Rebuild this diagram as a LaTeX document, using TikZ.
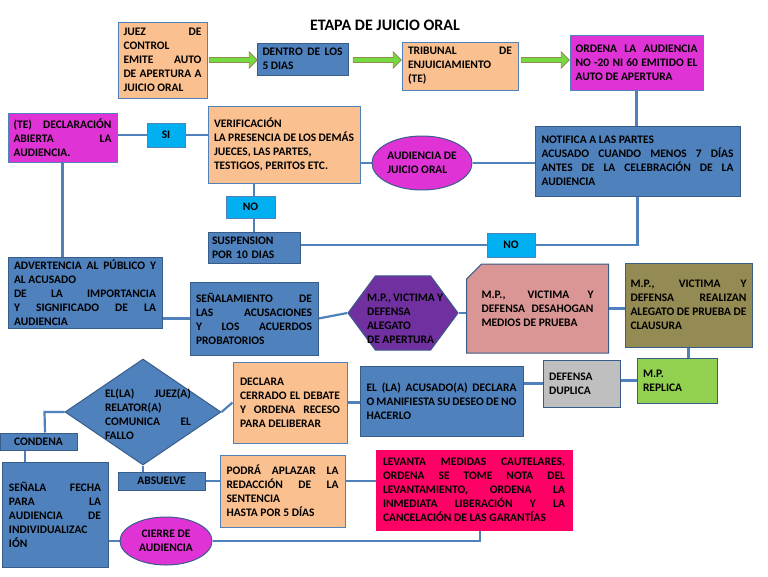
\documentclass[tikz,border=0pt]{standalone}
\usepackage{fontspec}
\setmainfont{Carlito}
\usetikzlibrary{shapes.geometric,shapes.arrows,shapes.misc}
\pgfdeclarelayer{background}
\pgfsetlayers{background,main}
\definecolor{azul}{HTML}{4F81BD}
\definecolor{azulb}{HTML}{385D8A}
\definecolor{durazno}{HTML}{FAC090}
\definecolor{magenta2}{HTML}{E033D6}
\definecolor{cian}{HTML}{00B0F0}
\definecolor{morado}{HTML}{7030A0}
\definecolor{rosa}{HTML}{D99694}
\definecolor{olivo}{HTML}{948A54}
\definecolor{verde}{HTML}{92D050}
\definecolor{gris}{HTML}{BFBFBF}
\definecolor{rojo}{HTML}{FF0066}
\newcommand\txtfont{\bfseries\fontsize{11.5}{14}\selectfont\hyphenpenalty=10000\exhyphenpenalty=10000}
\tikzset{
  caja/.style={draw=azulb, line width=1pt, inner sep=3pt, font=\txtfont, align=justify},
  blue/.style={caja, fill=azul},
  peach/.style={caja, fill=durazno, draw=azul},
  mag/.style={caja, fill=magenta2, draw=azul},
  cyan/.style={caja, fill=cian, draw=azul, align=left},
  con/.style={draw=azul, line width=2.2pt},
  flecha/.style={single arrow, fill=verde!80!green, draw=olivo, line width=0.8pt, minimum height=48pt, minimum width=16pt, single arrow head extend=3pt, inner sep=1pt}
}
\begin{document}
\begin{tikzpicture}[x=1pt,y=-1pt]
\useasboundingbox (0,0) rectangle (768,576);
\node[font=\bfseries\fontsize{16}{18}\selectfont] (title) at (385,25) {ETAPA DE JUICIO ORAL};
% fila superior
\node[peach, minimum width=89pt, minimum height=76pt, text width=78pt] (juez) at (162.5,60) {JUEZ DE CONTROL EMITE AUTO DE APERTURA A JUICIO ORAL};
\node[blue, minimum width=91pt, minimum height=32pt, text width=80pt] (dentro) at (302.5,59) {DENTRO DE LOS 5 DIAS};
\node[peach, minimum width=116pt, minimum height=48pt, text width=104pt] (trib) at (460,66) {TRIBUNAL DE ENJUICIAMIENTO (TE)};
\node[mag, minimum width=133pt, minimum height=55pt, text width=122pt] (ordena) at (636.5,62.5) {ORDENA LA AUDIENCIA NO -20 NI 60 EMITIDO EL AUTO DE APERTURA};
\node[flecha] (f1) at (232,60) {};
\node[flecha] (f2) at (376,60) {};
\node[flecha] (f3) at (544,60) {};
% segunda fila
\node[mag, minimum width=109pt, minimum height=49pt, text width=98pt] (te) at (62.5,137.5) {(TE) DECLARACIÓN ABIERTA LA AUDIENCIA.};
\node[cyan, minimum width=38pt, minimum height=24pt] (si) at (166,135) {SI};
\node[peach, minimum width=152pt, minimum height=77pt, text width=140pt] (verif) at (284,144.5) {VERIFICACIÓN\\LA PRESENCIA DE LOS DEMÁS JUECES, LAS PARTES,\\TESTIGOS, PERITOS ETC.};
\node[ellipse, fill=magenta2, draw=azulb, line width=1pt, minimum width=100pt, minimum height=54pt, inner sep=0pt, font=\txtfont, align=left] (aud) at (422,163) {AUDIENCIA DE\\JUICIO ORAL};
\node[blue, minimum width=205pt, minimum height=70pt, text width=192pt] (notif) at (637.5,161) {NOTIFICA A LAS PARTES\\ACUSADO CUANDO MENOS 7 DÍAS ANTES DE LA CELEBRACIÓN DE LA AUDIENCIA};
\node[cyan, minimum width=49pt, minimum height=22pt] (no1) at (250.5,207) {NO};
\node[blue, minimum width=92pt, minimum height=31pt, text width=84pt, align=left] (susp) at (254,247.5) {SUSPENSION\\POR 10 DIAS};
\node[cyan, minimum width=48pt, minimum height=24pt] (no2) at (511,245) {NO};
% tercera fila
\node[blue, minimum width=154pt, minimum height=70pt, text width=142pt] (adv) at (85,293) {ADVERTENCIA AL PÚBLICO Y AL ACUSADO\\DE LA IMPORTANCIA Y SIGNIFICADO DE LA AUDIENCIA};
\node[blue, minimum width=128pt, minimum height=73pt, text width=116pt] (senal) at (254,318.5) {SEÑALAMIENTO DE LAS ACUSACIONES Y LOS ACUERDOS PROBATORIOS};
\node[regular polygon, regular polygon sides=6, fill=morado, draw=azulb, line width=1pt, minimum size=86pt, xscale=1.28, inner sep=0pt] (hex) at (403,313) {};
\node[font=\txtfont, align=justify, text width=76pt] (hext) at (405,319) {M.P., VICTIMA Y DEFENSA\\ALEGATO\\DE APERTURA};
\node[chamfered rectangle, chamfered rectangle corners=north west, chamfered rectangle xsep=12pt, fill=rosa, draw=azulb, line width=1pt, minimum width=133pt, minimum height=89pt, text width=112pt, font=\txtfont, align=justify, inner sep=3pt] (desah) at (537.5,308.5) {M.P., VICTIMA Y DEFENSA DESAHOGAN MEDIOS DE PRUEBA};
\node[caja, fill=olivo, minimum width=127pt, minimum height=84pt, text width=116pt] (claus) at (688.5,305) {M.P., VICTIMA Y DEFENSA REALIZAN ALEGATO DE PRUEBA DE CLAUSURA};
% cuarta fila
\node[caja, fill=verde, minimum width=80pt, minimum height=45pt, text width=68pt, align=left] (repl) at (677,380.5) {M.P.\\REPLICA};
\node[caja, fill=gris, minimum width=77pt, minimum height=47pt, text width=65pt, align=left] (dupl) at (581.5,383.5) {DEFENSA\\DUPLICA};
\node[blue, minimum width=163pt, minimum height=70pt, text width=150pt] (acus) at (441.5,401) {EL (LA) ACUSADO(A) DECLARA O MANIFIESTA SU DESEO DE NO HACERLO};
\node[peach, minimum width=114pt, minimum height=81pt, text width=100pt] (decl) at (290,402.5) {DECLARA\\CERRADO EL DEBATE Y ORDENA RECESO PARA DELIBERAR};
\node[diamond, fill=azul, draw=azulb, line width=1pt, minimum width=156pt, minimum height=106pt, inner sep=0pt] (fallo) at (143,412) {};
\node[font=\txtfont, align=justify, text width=86pt] (fallot) at (148,414) {EL(LA) JUEZ(A) RELATOR(A)\\COMUNICA EL FALLO};
\node[blue, minimum width=77pt, minimum height=17pt, inner sep=1pt] (cond) at (38.5,441.5) {CONDENA};
\node[blue, minimum width=106pt, minimum height=105pt, text width=92pt] (fecha) at (55,514.5) {SEÑALA FECHA PARA LA AUDIENCIA DE INDIVIDUALIZAC IÓN};
\node[blue, minimum width=87pt, minimum height=18pt, inner sep=1pt] (abs) at (161.5,481) {ABSUELVE};
\node[peach, minimum width=125pt, minimum height=72pt, text width=112pt] (aplaz) at (282.5,491) {PODRÁ APLAZAR LA REDACCIÓN DE LA SENTENCIA\\HASTA POR 5 DÍAS};
\node[caja, fill=rojo, draw=rojo, minimum width=196pt, minimum height=80pt, text width=182pt] (levan) at (474,490) {LEVANTA MEDIDAS CAUTELARES, ORDENA SE TOME NOTA DEL LEVANTAMIENTO, ORDENA LA INMEDIATA LIBERACIÓN Y LA CANCELACIÓN DE LAS GARANTÍAS};
\node[ellipse, fill=magenta2, draw=azulb, line width=1pt, minimum width=92pt, minimum height=48pt, inner sep=0pt, font=\txtfont, align=center] (cierre) at (166,541) {CIERRE DE\\AUDIENCIA};
% conectores
\begin{pgfonlayer}{background}
\draw[con] (ordena.south) -- (ordena.south |- notif.north);
\draw[con] (aud.east) -- (aud.east -| notif.west);
\draw[con] (verif.east |- aud) -- (aud.west);
\draw[con] (te.east |- si) -- (si.west);
\draw[con] (si.east) -- (si -| verif.west);
\draw[con] (te.south) -- (te.south |- adv.north);
\draw[con] (verif.south -| susp) -- (susp.north);
\draw[con] (susp.east |- no2) -- (no2.west);
\draw[con] (no2.east) -- (no2 -| notif.south) -- (notif.south);
\draw[con] (adv.east |- senal) -- (senal.west);
\draw[con] (senal.east) -- (hex.west);
\draw[con] (hex.east) -- (hex.east -| desah.west);
\draw[con] (desah.east) -- (desah.east -| claus.west);
\draw[con] (claus.south) -- (claus.south |- repl.north);
\draw[con] (repl.west) -- (repl.west -| dupl.east);
\draw[con] (dupl.west) -- (dupl.west -| acus.east);
\draw[con] (acus.west |- decl) -- (decl.east);
\draw[con] (decl.west) -- (fallo.east);
\draw[con] (fallo.west) -- ++(-20,0) -- (cond.north -| 45,0);
\draw[con] (cond.south -| 25,0) -- (fecha.north -| 25,0);
\draw[con] (fallo.south) -- (fallo.south |- abs.north);
\draw[con] (abs.east) -- (abs.east -| aplaz.west);
\draw[con] (aplaz.east |- abs) -- (levan.west |- abs);
\draw[con] (fecha.east |- cierre) -- (cierre.west);
\draw[con] (cierre.east) -- (cierre.east -| 480,0) -- (levan.south -| 480,0);
\end{pgfonlayer}
\end{tikzpicture}
\end{document}
